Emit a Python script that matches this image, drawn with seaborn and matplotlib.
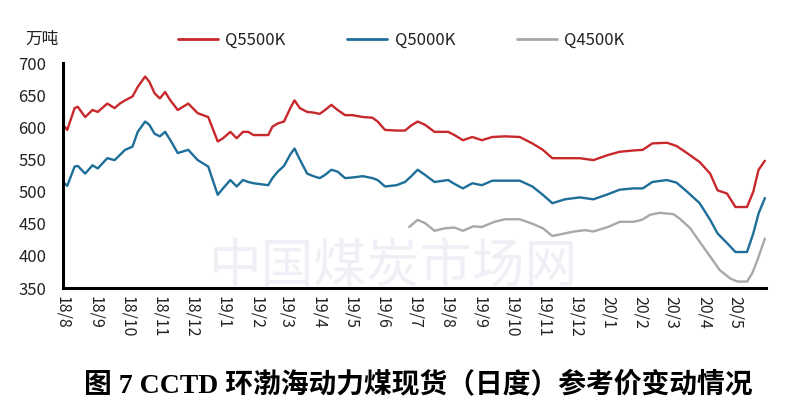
import pandas as pd
import matplotlib
matplotlib.use("Agg")
import matplotlib.pyplot as plt
import seaborn as sns
from matplotlib.lines import Line2D

# ---------------- data ----------------
month_labels = ["18/8", "18/9", "18/10", "18/11", "18/12", "19/1", "19/2", "19/3",
                "19/4", "19/5", "19/6", "19/7", "19/8", "19/9", "19/10", "19/11",
                "19/12", "20/1", "20/2", "20/3", "20/4", "20/5"]
month_starts = pd.date_range("2018-08-01", periods=len(month_labels), freq="MS")

main_dates = [
    "2018-08-01", "2018-08-05", "2018-08-12", "2018-08-15", "2018-08-22", "2018-08-29",
    "2018-09-03", "2018-09-12", "2018-09-19", "2018-09-24", "2018-09-29", "2018-10-06",
    "2018-10-11", "2018-10-18", "2018-10-22", "2018-10-27", "2018-11-01", "2018-11-06",
    "2018-11-11", "2018-11-18", "2018-11-28", "2018-12-07", "2018-12-17", "2018-12-26",
    "2018-12-31", "2019-01-07", "2019-01-13", "2019-01-19", "2019-01-24", "2019-01-29",
    "2019-02-12", "2019-02-16", "2019-02-21", "2019-02-27", "2019-03-05", "2019-03-09",
    "2019-03-14", "2019-03-21", "2019-03-27", "2019-04-02", "2019-04-07", "2019-04-13",
    "2019-04-19", "2019-04-26", "2019-05-03", "2019-05-13", "2019-05-22", "2019-05-27",
    "2019-06-03", "2019-06-14", "2019-06-22", "2019-06-28", "2019-07-04", "2019-07-11",
    "2019-07-20", "2019-08-02", "2019-08-08", "2019-08-16", "2019-08-25", "2019-09-03",
    "2019-09-13", "2019-09-25", "2019-10-09", "2019-10-21", "2019-10-31", "2019-11-09",
    "2019-11-21", "2019-12-05", "2019-12-18", "2020-01-01", "2020-01-12", "2020-01-25",
    "2020-02-03", "2020-02-12", "2020-02-26", "2020-03-06", "2020-03-16", "2020-03-28",
    "2020-04-07", "2020-04-14", "2020-04-23", "2020-05-01", "2020-05-12", "2020-05-18",
    "2020-05-23", "2020-05-29",
]
q5500 = [
    604, 596, 630, 632, 616, 627, 624, 637, 630, 637, 642, 648, 663, 679, 671, 653,
    645, 655, 642, 627, 637, 622, 616, 578, 583, 593, 583, 593, 593, 588, 588, 601,
    606, 609, 630, 642, 630, 624, 623, 621, 627, 635, 627, 619, 619, 616, 615, 609,
    596, 595, 595, 603, 609, 604, 593, 593, 588, 580, 585, 580, 585, 586, 585, 575,
    565, 552, 552, 552, 549, 557, 562, 564, 565, 575, 576, 571, 560, 546, 528, 502,
    497, 476, 476, 500, 534, 548,
]
q5000 = [
    515, 509, 539, 540, 528, 541, 536, 552, 549, 557, 565, 570, 593, 609, 604, 590,
    586, 593, 580, 560, 565, 549, 539, 495, 505, 518, 508, 518, 515, 513, 510, 521,
    531, 540, 558, 567, 550, 528, 524, 521, 526, 534, 531, 521, 522, 524, 521, 518,
    508, 510, 515, 524, 534, 526, 515, 518, 512, 505, 513, 510, 517, 517, 517, 508,
    495, 482, 488, 491, 488, 496, 503, 505, 505, 515, 518, 514, 500, 482, 456, 435,
    420, 406, 406, 435, 466, 490,
]
q4500_dates = [
    "2019-06-26", "2019-07-04", "2019-07-11", "2019-07-20", "2019-07-30", "2019-08-08",
    "2019-08-16", "2019-08-26", "2019-09-03", "2019-09-15", "2019-09-25", "2019-10-09",
    "2019-10-21", "2019-10-31", "2019-11-09", "2019-11-18", "2019-11-30", "2019-12-10",
    "2019-12-18", "2020-01-01", "2020-01-12", "2020-01-25", "2020-02-02", "2020-02-10",
    "2020-02-19", "2020-03-03", "2020-03-09", "2020-03-19", "2020-03-28", "2020-04-07",
    "2020-04-16", "2020-04-26", "2020-05-03", "2020-05-12", "2020-05-17", "2020-05-22",
    "2020-05-29",
]
q4500 = [
    445, 456, 451, 439, 443, 444, 439, 446, 445, 453, 457, 457, 450, 443, 431, 434,
    438, 440, 438, 445, 453, 453, 456, 464, 467, 465, 458, 443, 422, 399, 378, 365,
    360, 360, 373, 394, 427,
]
series_names = ["Q5500K", "Q5000K", "Q4500K"]
series_colors = ["#C8282C", "#1D6E98", "#A8A8A8"]
y_ticks = [350, 400, 450, 500, 550, 600, 650, 700]
unit_label = "万吨"
title_text = "图 7 CCTD 环渤海动力煤现货（日度）参考价变动情况"

# ---------------- frame ----------------
df = pd.concat([
    pd.DataFrame({"date": pd.to_datetime(main_dates), "price": q5500, "series": series_names[0]}),
    pd.DataFrame({"date": pd.to_datetime(main_dates), "price": q5000, "series": series_names[1]}),
    pd.DataFrame({"date": pd.to_datetime(q4500_dates), "price": q4500, "series": series_names[2]}),
], ignore_index=True)
palette = dict(zip(series_names, series_colors))

sns.set_theme(style="white")
plt.rcParams["font.family"] = ["Noto Sans CJK SC", "DejaVu Sans"]

fig = plt.figure(figsize=(7.88, 4.15), dpi=100)
fig.patch.set_facecolor("white")
ax = fig.add_axes([0.080, 0.306, 0.892, 0.542])
ax.set_facecolor("none")

# faint watermark (kept inside the plot area)
fig.text(0.50, 0.36, "中国煤炭市场网", fontsize=38, color="#EEF0F5",
         ha="center", va="center", zorder=0)

sns.lineplot(data=df, x="date", y="price", hue="series", palette=palette,
             hue_order=series_names, linewidth=1.7, ax=ax, legend=False,
             estimator=None, sort=True)

ax.set_xlim(pd.Timestamp("2018-08-01"), pd.Timestamp("2020-05-30"))
ax.set_ylim(350, 700)
ax.set_yticks(y_ticks)
ax.set_yticklabels([str(v) for v in y_ticks], fontsize=12, color="#222222")
ax.set_xticks(month_starts)
ax.set_xticklabels(month_labels, rotation=-90, fontsize=11.5, color="#222222",
                   ha="center", va="top")
ax.set_xlabel("")
ax.set_ylabel("")
ax.tick_params(axis="both", direction="in", length=6, width=2, color="black")
ax.tick_params(axis="y", pad=12)
ax.tick_params(axis="x", pad=6)
for side in ["top", "right"]:
    ax.spines[side].set_visible(False)
for side in ["left", "bottom"]:
    ax.spines[side].set_color("black")
    ax.spines[side].set_linewidth(2.2)
ax.grid(False)

# unit label
fig.text(0.032, 0.905, unit_label, fontsize=12, color="#222222", ha="left", va="center")

# legend
handles = [Line2D([0], [0], color=c, lw=2) for c in series_colors]
fig.legend(handles, series_names, loc="center", bbox_to_anchor=(0.509, 0.902),
           ncol=3, frameon=False, fontsize=12, handlelength=2.4, handletextpad=0.45,
           columnspacing=3.7, labelcolor="#222222")

# title
fig.text(0.531, 0.072, title_text, fontsize=20, fontweight="bold",
         family=["Liberation Serif", "Noto Sans CJK SC"], color="black",
         ha="center", va="center")

fig.savefig("out.png", dpi=100, facecolor="white")
